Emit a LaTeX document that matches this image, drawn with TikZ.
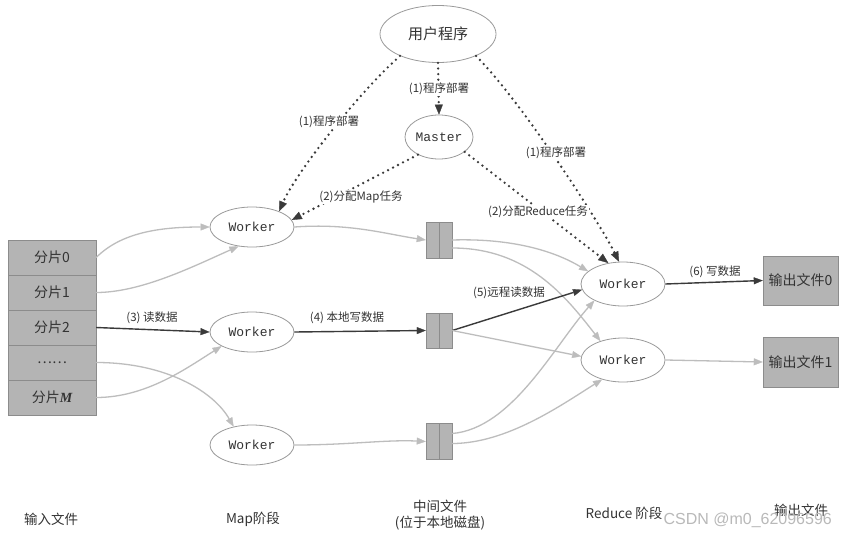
\documentclass[tikz,border=0pt]{standalone}
\usepackage{fontspec}
\setmainfont{Liberation Serif}
\newfontfamily\cjk{Noto Sans CJK SC}
\newfontfamily\mono{Liberation Mono}
\newfontfamily\wmfont{Liberation Sans}
\usetikzlibrary{arrows.meta,shapes.geometric,calc}
\definecolor{boxfill}{HTML}{B4B4B4}
\definecolor{boxline}{HTML}{8C8C8C}
\definecolor{ellline}{HTML}{9A9A9A}
\definecolor{lightc}{HTML}{BDBDBD}
\definecolor{darkc}{HTML}{3A3A3A}
\definecolor{textc}{HTML}{333333}
\begin{document}
\begin{tikzpicture}[x=1pt,y=-1pt,
  inbox/.style={draw=boxline, fill=boxfill, minimum width=88pt, minimum height=35pt, inner sep=0pt, font=\cjk\fontsize{14}{14}\selectfont, text=textc},
  outbox/.style={draw=boxline, fill=boxfill, minimum width=75pt, inner sep=0pt, font=\cjk\fontsize{14}{14}\selectfont, text=textc},
  filebox/.style={draw=boxline, fill=boxfill, minimum width=26pt, inner sep=0pt},
  ell/.style={ellipse, draw=ellline, line width=0.8pt, fill=white, inner sep=0pt, text=textc},
  wk/.style={ell, minimum width=84pt, minimum height=40pt, font=\mono\fontsize{13}{13}\selectfont},
  lite/.style={draw=lightc, line width=1.3pt, -{Triangle[length=9pt,width=7pt,line width=0.3pt]}},
  dark/.style={draw=darkc, line width=1.4pt, -{Triangle[length=9pt,width=7pt,line width=0.3pt]}},
  dotln/.style={draw=darkc, line width=2.6pt, line cap=round, dash pattern=on 0pt off 5.6pt, -{Triangle[length=10pt,width=8pt,line width=0.3pt]}},
  lbl/.style={fill=white, inner sep=1pt, text=textc, font=\cjk\fontsize{11.5}{12}\selectfont},
  bot/.style={text=textc, font=\cjk\fontsize{13.5}{16}\selectfont, align=center}
]
\useasboundingbox (0,0) rectangle (846,538);
\fill[white] (0,0) rectangle (846,538);

% input stack
\node[inbox] (s0) at (52,257.5) {分片0};
\node[inbox] (s1) at (52,292.5) {分片1};
\node[inbox] (s2) at (52,327.5) {分片2};
\node[inbox] (s3) at (52,362.5) {……};
\node[inbox] (s4) at (52,397.5) {分片{\rmfamily\bfseries\itshape M}};

% ellipses
\node[ell, minimum width=116pt, minimum height=57pt, font=\cjk\fontsize{15}{15}\selectfont] (u) at (438,34) {用户程序};
\node[ell, minimum width=68pt, minimum height=44pt, font=\mono\fontsize{13}{13}\selectfont] (m) at (439,137) {Master};
\node[wk] (w1) at (252,227) {Worker};
\node[wk] (w2) at (252,332) {Worker};
\node[wk] (w3) at (252,445) {Worker};
\node[wk, minimum height=44pt] (rw1) at (623,284) {Worker};
\node[wk, minimum height=44pt] (rw2) at (623,360) {Worker};

% intermediate files
\node[filebox, minimum height=36pt] (f1) at (439,240) {};
\node[filebox, minimum height=35pt] (f2) at (439,330.5) {};
\node[filebox, minimum height=36pt] (f3) at (439,441.5) {};
\foreach \f in {f1,f2,f3} \draw[boxline] (\f.north) -- (\f.south);

% output files
\node[outbox, minimum height=49pt] (o0) at (800.5,280.5) {输出文件0};
\node[outbox, minimum height=50pt] (o1) at (800.5,362) {输出文件1};

% input -> map
\draw[lite] (s0.east) .. controls +(25,-25) and +(-50,0) .. (w1.west);
\draw[lite] (s1.east) .. controls +(45,0) and +(-45,20) .. (w1.-125);
\draw[dark] (s2.east) -- (w2.west);
\draw[lite] (s3.east) .. controls +(70,0) and +(-20,-35) .. (w3.135);
\draw[lite] (s4.east) .. controls +(50,0) and +(-35,22) .. (w2.-155);

% map -> files
\draw[lite] (w1.east) .. controls +(55,-4) and +(-40,-6) .. (f1.west);
\draw[dark] (w2.east) -- (f2.west);
\draw[lite] (w3.east) .. controls +(55,0) and +(-40,-2) .. (f3.west);

% files -> reduce
\draw[lite] (f1.east) .. controls +(65,-2) and +(-30,-18) .. (rw1.160);
\draw[lite] ([yshift=-8pt]f1.east) .. controls +(75,0) and +(-35,-45) .. (rw2.140);
\draw[dark] (f2.east) -- (rw1.188);
\draw[lite] (f2.east) -- (rw2.175);
\draw[lite] ([yshift=8pt]f3.east) .. controls +(60,-5) and +(-40,45) .. (rw1.-150);
\draw[lite] ([yshift=-2pt]f3.east) .. controls +(55,0) and +(-40,25) .. (rw2.-137);

% reduce -> output
\draw[dark] (rw1.east) -- (o0.west);
\draw[lite] (rw2.east) -- (o1.west);

% dotted control arrows
\draw[dotln] (u.-150) .. controls +(-45,40) and +(15,-35) .. (w1.30);
\draw[dotln] (u.south) -- (m.north);
\draw[dotln] (u.-30) .. controls +(45,45) and +(-20,-40) .. (rw1.100);
\draw[dotln] (m.-140) -- (w1.10);
\draw[dotln] (m.-30) -- (rw1.125);

% labels
\node[lbl] (l1a) at (329,122) {(1)程序部署};
\node[lbl] (l1b) at (439,89) {(1)程序部署};
\node[lbl] (l1c) at (556,153) {(1)程序部署};
\node[lbl] (l2a) at (361,197) {(2)分配Map任务};
\node[lbl] (l2b) at (538,212) {(2)分配Reduce任务};
\node[lbl] (l3) at (152,318) {(3) 读数据};
\node[lbl] (l4) at (347,318) {(4) 本地写数据};
\node[lbl] (l5) at (509,293) {(5)远程读数据};
\node[lbl] (l6) at (715,272) {(6) 写数据};

% bottom captions
\node[bot] (c1) at (51,519) {输入文件};
\node[bot] (c2) at (253,519) {Map阶段};
\node[bot] (c3) at (440,515) {中间文件\\(位于本地磁盘)};
\node[bot] (c4) at (624,513) {Reduce 阶段};
\node[bot] (c5) at (801,510) {输出文件};
\node[text=gray!55, font=\wmfont\fontsize{16}{16}\selectfont, anchor=west] (wm) at (660,520) {CSDN @m0\_62096596};
\end{tikzpicture}
\end{document}
